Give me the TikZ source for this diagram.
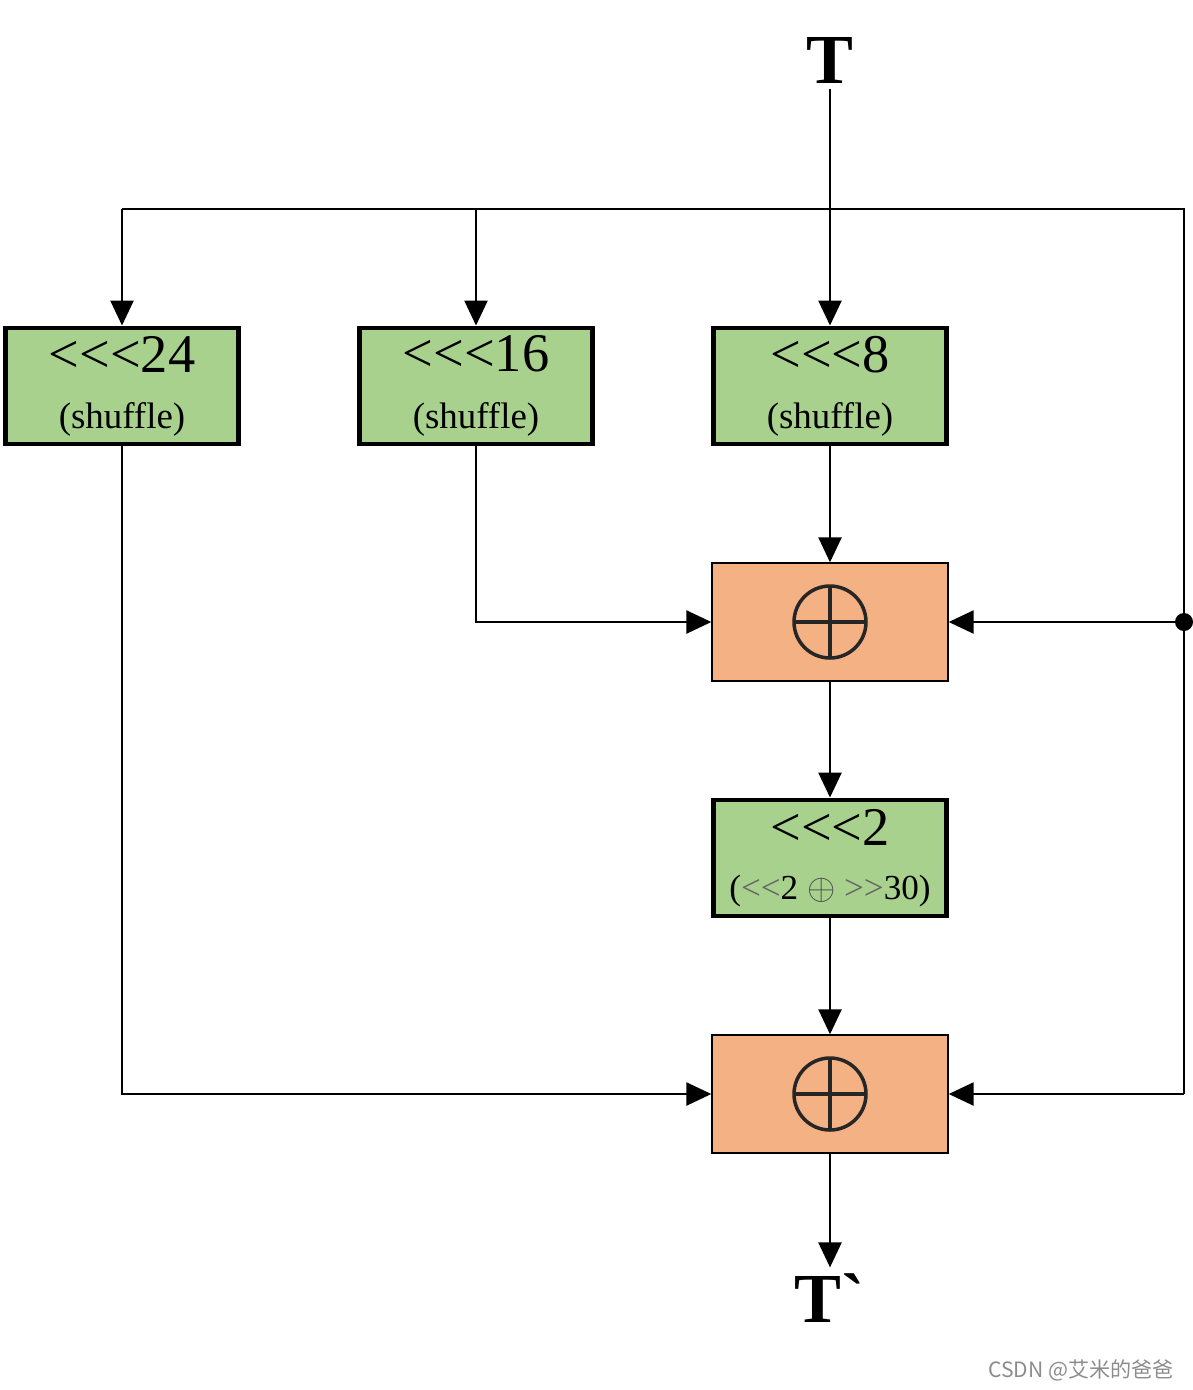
\documentclass[tikz,border=0pt]{standalone}
\usepackage{fontspec}
\setmainfont{Liberation Serif}
\newfontfamily\cjk{Noto Sans CJK SC}
\usetikzlibrary{arrows.meta}
\tikzset{
  rot/.style={draw, line width=2.8pt, fill=rotgreen, minimum width=4.66cm, minimum height=2.32cm, align=center, inner sep=0pt},
  xorbox/.style={draw, line width=0.8pt, fill=xororange, minimum width=4.72cm, minimum height=2.36cm, inner sep=0pt,
    path picture={\draw[line width=2pt, black!85] (path picture bounding box.center) circle (0.72cm);
      \draw[line width=2pt, black!85] ([xshift=-0.72cm]path picture bounding box.center) -- ([xshift=0.72cm]path picture bounding box.center);
      \draw[line width=2pt, black!85] ([yshift=-0.72cm]path picture bounding box.center) -- ([yshift=0.72cm]path picture bounding box.center);}},
  flow/.style={line width=1.4pt, -{Triangle[length=0.5cm, width=0.46cm]}},
  wire/.style={line width=1.4pt},
}
\newcommand{\sh}{{<}{<}{<}}
\newcommand{\bigline}[1]{{\fontsize{31}{33}\selectfont #1}}
\newcommand{\smallline}[1]{{\fontsize{21}{24}\selectfont #1}}
\definecolor{rotgreen}{HTML}{A9D18E}
\definecolor{xororange}{HTML}{F4B183}
\begin{document}
\begin{tikzpicture}[x=0.02cm, y=-0.02cm]
\useasboundingbox (0,0) rectangle (1193,1390);
\node[font=\bfseries\fontsize{40}{40}\selectfont] (tin) at (830,60) {T};
\node[font=\bfseries\fontsize{40}{40}\selectfont] (tout) at (830,1298) {T\textasciigrave};
\node[rot] (r24) at (122,386) {\bigline{\sh 24}\\[16pt]\smallline{(shuffle)}};
\node[rot] (r16) at (476,386) {\bigline{\sh 16}\\[16pt]\smallline{(shuffle)}};
\node[rot] (r8) at (830,386) {\bigline{\sh 8}\\[16pt]\smallline{(shuffle)}};
\node[xorbox] (x1) at (830,622) {};
\node[rot] (r2) at (830,858) {\bigline{\sh 2}\\[16pt]{\fontsize{20}{24}\selectfont (\textcolor{black!60}{{<}{<}}2 \textcolor{black!70}{$\oplus$} \textcolor{black!60}{{>}{>}}30)}};
\node[xorbox] (x2) at (830,1094) {};
\coordinate (tl) at (122,209);
\coordinate (tm) at (476,209);
\coordinate (tc) at (830,209);
\coordinate (tr) at (1184,209);
\coordinate (dot) at (1184,622);
\coordinate (br) at (1184,1094);
\coordinate (c16) at (476,622);
\coordinate (c24) at (122,1094);
\draw[flow] (tin) -- (r8);
\draw[wire] (tl) -- (tr) -- (br);
\draw[flow] (tl) -- (r24);
\draw[flow] (tm) -- (r16);
\draw[flow] (r8) -- (x1);
\draw[flow] (r16) -- (c16) -- (x1);
\draw[flow] (dot) -- (x1);
\fill (dot) circle (9);
\draw[flow] (x1) -- (r2);
\draw[flow] (r2) -- (x2);
\draw[flow] (r24) -- (c24) -- (x2);
\draw[flow] (br) -- (x2);
\draw[flow] (x2) -- (tout);
\node[anchor=east, text=black!45, font=\cjk\fontsize{12}{12}\selectfont] (mark) at (1180,1370) {CSDN @艾米的爸爸};
\end{tikzpicture}
\end{document}
